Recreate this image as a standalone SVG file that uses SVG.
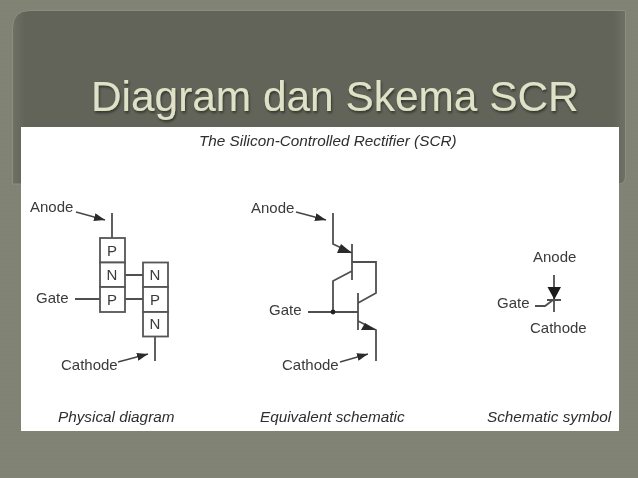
<svg xmlns="http://www.w3.org/2000/svg" width="638" height="478" viewBox="0 0 638 478">
<defs>
<pattern id="weave" width="4" height="4" patternUnits="userSpaceOnUse"><rect width="4" height="4" fill="#808373"/><path d="M0 0H4M0 0V4" stroke="#838676" stroke-width="1" fill="none"/></pattern>
<filter id="shadow" x="-5%" y="-20%" width="110%" height="150%"><feDropShadow dx="1" dy="2" stdDeviation="1" flood-color="#2c2d26" flood-opacity="0.85"/></filter>
<filter id="soft" x="-5%" y="-5%" width="110%" height="110%"><feGaussianBlur stdDeviation="0.4"/></filter>
<linearGradient id="edgeL" x1="0" x2="1" y1="0" y2="0"><stop offset="0" stop-color="#6f7165"/><stop offset="0.02" stop-color="#62645a"/><stop offset="0.98" stop-color="#62645a"/><stop offset="1" stop-color="#6f7165"/></linearGradient>
<marker id="arrow" viewBox="0 0 11 8" refX="11" refY="4" markerWidth="11" markerHeight="8" markerUnits="userSpaceOnUse" orient="auto"><path d="M0 0L11 4L0 8Z" fill="#2a2a2a"/></marker>
</defs>
<style>
.lbl{font-family:"Liberation Sans",Arial,sans-serif;font-size:15px;fill:#3a3a3a}
.cap{font-family:"Liberation Sans",Arial,sans-serif;font-size:15.3px;font-style:italic;fill:#2e2e2e}
.ttl{font-family:"Liberation Sans",Arial,sans-serif;font-size:42.4px;fill:#dfe2c6;filter:url(#shadow)}
.box{fill:#fff;stroke:#555;stroke-width:1.8}
.w{fill:none;stroke:#4f4f4f;stroke-width:1.8}
.a{fill:none;stroke:#444;stroke-width:1.4;marker-end:url(#arrow)}
.c{text-anchor:middle}
</style>
<rect width="638" height="478" fill="url(#weave)"/>
<g id="panel">
<path d="M12.500 184V28Q12.500 10.500 30 10.500H625.500V176Q625.500 184 618 184Z" fill="url(#edgeL)" stroke="#8c8f7c" stroke-width="1"/>
</g>
<text class="ttl" x="91" y="111">Diagram dan Skema SCR</text>
<rect id="sheet" x="21" y="127" width="598" height="304" fill="#fff"/>
<g id="diagram" filter="url(#soft)">
<text class="cap" x="199" y="146">The Silicon-Controlled Rectifier (SCR)</text>
<text class="cap" x="58" y="422">Physical diagram</text>
<text class="cap" x="260" y="422">Equivalent schematic</text>
<text class="cap" x="487" y="422">Schematic symbol</text>
<g id="connectors">
<path class="w" d="M112 213V238M125 275H143M125 299H143M75 299H100M155 336V361"/>
<path class="a" d="M76 212L105 220"/>
<path class="a" d="M118 362L148 354"/>
<path class="w" d="M333 213V244L352 253M352 244V280M352 262H376V293L358 303M352 271L333 281V312M308 312H358M358 293V330M358 321L376 330V361"/>
<path class="a" d="M296 212L326 220"/>
<path class="a" d="M340 362L368 354"/>
<path d="M341 244L352 253L337 253Z" fill="#2a2a2a"/>
<path d="M365 323L376 330L361 330Z" fill="#2a2a2a"/>
<circle cx="333" cy="312" r="2.400" fill="#222"/>
<path class="w" d="M554 275V312M547 300H561M535 306H545L553 300"/>
<path d="M547.500 287H561L554.300 299.500Z" fill="#1c1c1c"/>
</g>
<g id="physical-anode"><text class="lbl" x="30" y="212">Anode</text></g>
<g id="physical-gate"><text class="lbl" x="36" y="303">Gate</text></g>
<g id="physical-cathode"><text class="lbl" x="61" y="370">Cathode</text></g>
<g id="layer-p1"><rect class="box" x="100" y="238" width="25" height="24.500"/><text class="lbl c" x="112" y="255.500">P</text></g>
<g id="layer-n1"><rect class="box" x="100" y="262.500" width="25" height="24.500"/><text class="lbl c" x="112" y="280">N</text></g>
<g id="layer-p2"><rect class="box" x="100" y="287" width="25" height="25"/><text class="lbl c" x="112" y="304.500">P</text></g>
<g id="layer-n2"><rect class="box" x="143" y="262.500" width="25" height="24.500"/><text class="lbl c" x="155" y="280">N</text></g>
<g id="layer-p3"><rect class="box" x="143" y="287" width="25" height="25"/><text class="lbl c" x="155" y="304.500">P</text></g>
<g id="layer-n3"><rect class="box" x="143" y="312" width="25" height="24.500"/><text class="lbl c" x="155" y="329">N</text></g>
<g id="equivalent-anode"><text class="lbl" x="251" y="213">Anode</text></g>
<g id="equivalent-gate"><text class="lbl" x="269" y="315">Gate</text></g>
<g id="equivalent-cathode"><text class="lbl" x="282" y="370">Cathode</text></g>
<g id="symbol-anode"><text class="lbl" x="533" y="262">Anode</text></g>
<g id="symbol-gate"><text class="lbl" x="497" y="308">Gate</text></g>
<g id="symbol-cathode"><text class="lbl" x="530" y="333">Cathode</text></g>
</g>
</svg>
